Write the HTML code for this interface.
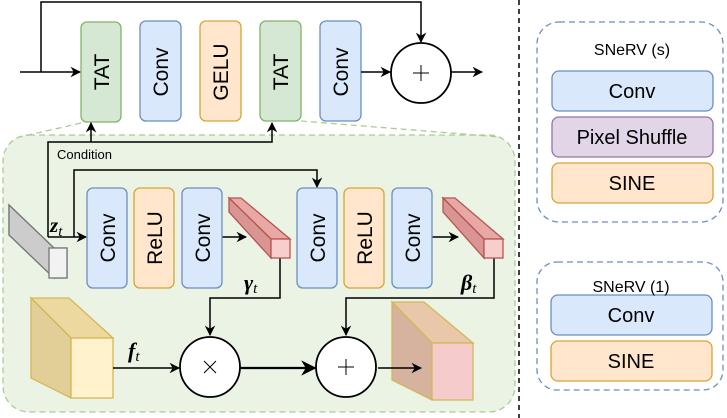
<!DOCTYPE html><html><head><style>body{margin:0;background:#fff}svg{display:block}text{font-family:"Liberation Sans",sans-serif}text.m{font-family:"Liberation Serif",serif;font-weight:bold;font-style:italic}</style></head><body>
<svg width="727" height="418" viewBox="0 0 727 418" xmlns="http://www.w3.org/2000/svg">
<defs><marker id="a" viewBox="0 0 10 10" refX="9" refY="5" markerWidth="7" markerHeight="7" orient="auto-start-reverse"><path d="M0,0L10,5L0,10L3,5z" fill="#000"/></marker></defs>
<rect x="3" y="135" width="512" height="277" rx="26" fill="#eaf3e4" stroke="#a9cc96" stroke-width="1.3" stroke-dasharray="6,4"/>
<path d="M81,123 L20,137 M301,121 L500,137" stroke="#a9cc96" stroke-width="1.3" stroke-dasharray="6,4" fill="none"/>
<g stroke-width="1.3">
<rect x="81" y="22" width="40" height="100" rx="6" fill="#d5e8d4" stroke="#82b366"/>
<rect x="140" y="21" width="41" height="100" rx="6" fill="#dae8fc" stroke="#6c8ebf"/>
<rect x="200" y="21" width="41" height="100" rx="6" fill="#ffe6cc" stroke="#d6a534"/>
<rect x="260" y="21" width="41" height="100" rx="6" fill="#d5e8d4" stroke="#82b366"/>
<rect x="320" y="21" width="41" height="100" rx="6" fill="#dae8fc" stroke="#6c8ebf"/>
</g>
<g font-size="21" text-anchor="middle">
<text transform="translate(109,72) rotate(-90)">TAT</text>
<text transform="translate(168,72) rotate(-90)">Conv</text>
<text transform="translate(228,72) rotate(-90)">GELU</text>
<text transform="translate(288,72) rotate(-90)">TAT</text>
<text transform="translate(348,72) rotate(-90)">Conv</text>
</g>
<circle cx="421" cy="73" r="30" fill="#fff" stroke="#000" stroke-width="1.8"/>
<path d="M413,73h16M421,65v16" stroke="#000" stroke-width="1"/>
<g stroke="#d6b656" stroke-width="1.3">
<path d="M31,298H69L113,338H71Z" fill="#ecd9a0"/>
<path d="M31,298V378L71,398V338Z" fill="#e2cf98"/>
<rect x="71" y="338" width="42" height="60" fill="#fff2cc"/>
<path d="M392,302H424L473,343H432Z" fill="#e8c8a8"/>
<path d="M392,302V380L432,400V343Z" fill="#d5b39e"/>
<rect x="432" y="343" width="41" height="57" fill="#f5cccb"/>
</g>
<g stroke="#000" stroke-width="1.5" fill="none">
<path d="M20,72H80" marker-end="url(#a)"/>
<path d="M41,72V2H421V42" marker-end="url(#a)"/>
<path d="M361,72H390" marker-end="url(#a)"/>
<path d="M451,72H482" marker-end="url(#a)"/>
<path d="M48,237V142H272V123" marker-end="url(#a)"/>
<path d="M91,142V123" marker-end="url(#a)"/>
<path d="M74,237V170H317V187" marker-end="url(#a)"/>
<path d="M48,237H86" marker-end="url(#a)"/>
<path d="M222,237H246" marker-end="url(#a)"/>
<path d="M432,237H458" marker-end="url(#a)"/>
<path d="M280,258V298H210V335" marker-end="url(#a)"/>
<path d="M494,258V298H346V335" marker-end="url(#a)"/>
<path d="M113,368H179" marker-end="url(#a)"/>
<path d="M378,368H421" marker-end="url(#a)"/>
</g>
<path d="M240,368H315" stroke="#000" stroke-width="2.2" marker-end="url(#a)"/>
<text x="57" y="159" font-size="13">Condition</text>
<path d="M9,205L54,248H67V278H54L9,235Z" fill="#ddd" stroke="#777" stroke-width="1.3"/>
<path d="M9,205L9,235L54,278V248Z" fill="#ccc" stroke="#777" stroke-width="1.3"/>
<rect x="49" y="248" width="18" height="30" fill="#f2f2f2" stroke="#777" stroke-width="1.3"/>
<text x="50" y="232" font-size="21" class="m">z<tspan font-size="15" font-weight="normal" dy="4">t</tspan></text>
<g stroke-width="1.3">
<rect x="87" y="188" width="40" height="100" rx="6" fill="#dae8fc" stroke="#6c8ebf"/>
<rect x="134" y="188" width="40" height="100" rx="6" fill="#ffe6cc" stroke="#d6a534"/>
<rect x="182" y="188" width="40" height="100" rx="6" fill="#dae8fc" stroke="#6c8ebf"/>
<rect x="297" y="188" width="40" height="100" rx="6" fill="#dae8fc" stroke="#6c8ebf"/>
<rect x="344" y="188" width="40" height="100" rx="6" fill="#ffe6cc" stroke="#d6a534"/>
<rect x="392" y="188" width="40" height="100" rx="6" fill="#dae8fc" stroke="#6c8ebf"/>
</g>
<g font-size="21" text-anchor="middle">
<text transform="translate(115,238) rotate(-90)">Conv</text>
<text transform="translate(162,238) rotate(-90)">ReLU</text>
<text transform="translate(210,238) rotate(-90)">Conv</text>
<text transform="translate(325,238) rotate(-90)">Conv</text>
<text transform="translate(372,238) rotate(-90)">ReLU</text>
<text transform="translate(420,238) rotate(-90)">Conv</text>
</g>
<g stroke="#b85450" stroke-width="1.3">
<path d="M229,198H241L290,239H271Z" fill="#e8a9a6"/>
<path d="M229,198V212L271,258V239Z" fill="#d99592"/>
<rect x="271" y="239" width="19" height="19" fill="#f8cecc"/>
<path d="M443,198H455L503,239H484Z" fill="#e8a9a6"/>
<path d="M443,198V212L484,258V239Z" fill="#d99592"/>
<rect x="484" y="239" width="19" height="19" fill="#f8cecc"/>
</g>
<text x="244" y="290" font-size="22" class="m">γ<tspan font-size="15" font-weight="normal" dy="3">t</tspan></text>
<text x="461" y="290" font-size="22" class="m">β<tspan font-size="15" font-weight="normal" dy="3">t</tspan></text>
<text x="128" y="358" font-size="22" class="m">f<tspan font-size="15" font-weight="normal" dy="3">t</tspan></text>
<circle cx="210" cy="367" r="30" fill="#fff" stroke="#000" stroke-width="1.8"/>
<path d="M204,361l12,12M216,361l-12,12" stroke="#000" stroke-width="1"/>
<circle cx="346" cy="367" r="30" fill="#fff" stroke="#000" stroke-width="1.8"/>
<path d="M338,367h16M346,359v16" stroke="#000" stroke-width="1"/>
<line x1="519" y1="0" x2="519" y2="418" stroke="#000" stroke-width="1.5" stroke-dasharray="5,4"/>
<rect x="537" y="22" width="186" height="200" rx="22" fill="none" stroke="#6c8ebf" stroke-width="1.3" stroke-dasharray="6,4"/>
<rect x="537" y="262" width="186" height="128" rx="20" fill="none" stroke="#6c8ebf" stroke-width="1.3" stroke-dasharray="6,4"/>
<g stroke-width="1.3">
<rect x="552" y="71" width="161" height="40" rx="7" fill="#dae8fc" stroke="#6c8ebf"/>
<rect x="552" y="117" width="161" height="40" rx="7" fill="#e1d5e7" stroke="#9673a6"/>
<rect x="552" y="163" width="161" height="40" rx="7" fill="#ffe6cc" stroke="#d6a534"/>
<rect x="551" y="295" width="161" height="40" rx="7" fill="#dae8fc" stroke="#6c8ebf"/>
<rect x="551" y="341" width="161" height="40" rx="7" fill="#ffe6cc" stroke="#d6a534"/>
</g>
<g text-anchor="middle">
<text x="632" y="55" font-size="16">SNeRV (s)</text>
<text x="632" y="98" font-size="20">Conv</text>
<text x="632" y="144" font-size="20">Pixel Shuffle</text>
<text x="632" y="190" font-size="20">SINE</text>
<text x="631" y="292" font-size="16">SNeRV (1)</text>
<text x="631" y="322" font-size="20">Conv</text>
<text x="631" y="368" font-size="20">SINE</text>
</g>
</svg></body></html>
